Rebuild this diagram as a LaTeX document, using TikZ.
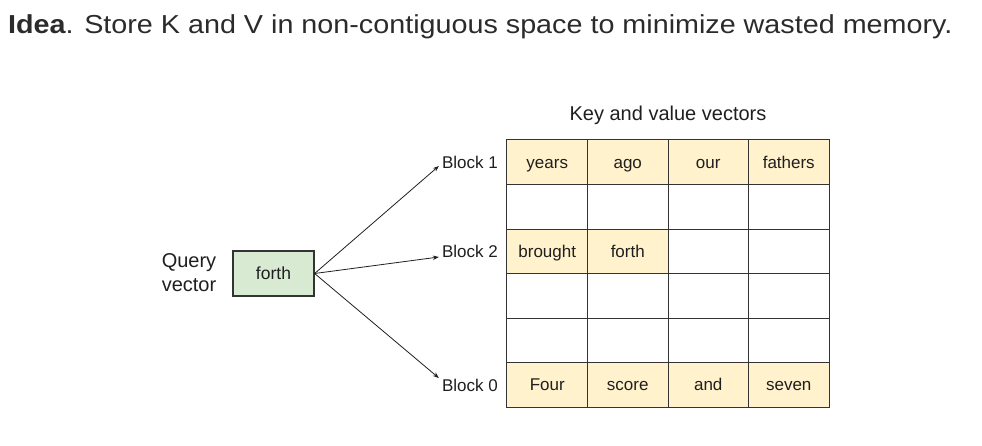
\documentclass[tikz,border=0pt]{standalone}
\usepackage{fontspec}
\setmainfont{Liberation Sans}
\usetikzlibrary{arrows.meta,calc}
\definecolor{cream}{HTML}{FFF2CC}
\definecolor{qgreen}{HTML}{D9EAD3}
\definecolor{gridc}{HTML}{333333}
\definecolor{txt}{HTML}{1F1F1F}
\definecolor{head}{HTML}{2B2B2B}
\tikzset{
  cell/.style={minimum width=80.5pt, minimum height=44.5pt, inner sep=0pt, text height=15pt, text depth=3pt, text=txt, font=\fontsize{17}{20}\selectfont},
  full/.style={cell, fill=cream},
  gridline/.style={draw=gridc, line width=1.25pt},
  blocklbl/.style={anchor=east, inner sep=2pt, text height=15pt, text depth=3pt, text=txt, font=\fontsize{17}{20}\selectfont},
  conn/.style={draw=txt, line width=0.8pt, -{Stealth[length=6pt,width=4.5pt]}},
  qbox/.style={draw=gridc, line width=1.25pt, fill=qgreen, minimum width=81pt, minimum height=45pt, inner sep=0pt, text=txt, font=\fontsize{17.5}{20}\selectfont}
}
\begin{document}
\begin{tikzpicture}[x=1pt,y=-1pt]
\useasboundingbox (0,0) rectangle (982,445);
% header
\node[anchor=base west, inner sep=0pt, text=head] (hdr) at (8,33)
  {\scalebox{1.105}[1]{\fontsize{26}{30}\selectfont\textbf{Idea}. Store K and V in non-contiguous space to minimize wasted memory.}};
% title
\node[text=txt, font=\fontsize{20}{24}\selectfont, inner sep=0pt] (title) at (668,115) {Key and value vectors};
% grid row 1 (Block 1)
\node[full] (r1c1) at (547.25,162.25) {years};
\node[full] (r1c2) at (627.75,162.25) {ago};
\node[full] (r1c3) at (708.25,162.25) {our};
\node[full] (r1c4) at (788.75,162.25) {fathers};
% row 2 empty
\node[cell] (r2c1) at (547.25,206.75) {};
\node[cell] (r2c2) at (627.75,206.75) {};
\node[cell] (r2c3) at (708.25,206.75) {};
\node[cell] (r2c4) at (788.75,206.75) {};
% row 3 (Block 2)
\node[full] (r3c1) at (547.25,251.25) {brought};
\node[full] (r3c2) at (627.75,251.25) {forth};
\node[cell] (r3c3) at (708.25,251.25) {};
\node[cell] (r3c4) at (788.75,251.25) {};
% rows 4,5 empty
\node[cell] (r4c1) at (547.25,295.75) {};
\node[cell] (r4c2) at (627.75,295.75) {};
\node[cell] (r4c3) at (708.25,295.75) {};
\node[cell] (r4c4) at (788.75,295.75) {};
\node[cell] (r5c1) at (547.25,340.25) {};
\node[cell] (r5c2) at (627.75,340.25) {};
\node[cell] (r5c3) at (708.25,340.25) {};
\node[cell] (r5c4) at (788.75,340.25) {};
% row 6 (Block 0)
\node[full] (r6c1) at (547.25,384.75) {Four};
\node[full] (r6c2) at (627.75,384.75) {score};
\node[full] (r6c3) at (708.25,384.75) {and};
\node[full] (r6c4) at (788.75,384.75) {seven};
% grid lines
\draw[gridline] (r1c1.north west) rectangle (r6c4.south east);
\foreach \c in {1,2,3} \draw[gridline] (r1c\c.north east) -- (r6c\c.south east);
\foreach \r in {1,2,3,4,5} \draw[gridline] (r\r c1.south west) -- (r\r c4.south east);
% block labels
\node[blocklbl] (b1) at (500,162) {Block 1};
\node[blocklbl] (b2) at (500,251) {Block 2};
\node[blocklbl] (b0) at (500,385) {Block 0};
% query
\node[qbox] (q) at (273.5,273.5) {forth};
\node[text=txt, font=\fontsize{20}{24.5}\selectfont, align=center, inner sep=0pt] (ql) at (189,272.5) {Query\\vector};
% connectors
\draw[conn] (q.east) -- ($(b1.west)+(-1,4)$);
\draw[conn] (q.east) -- ($(b2.west)+(-1,6)$);
\draw[conn] (q.east) -- ($(b0.west)+(-1,-7)$);
\end{tikzpicture}
\end{document}
